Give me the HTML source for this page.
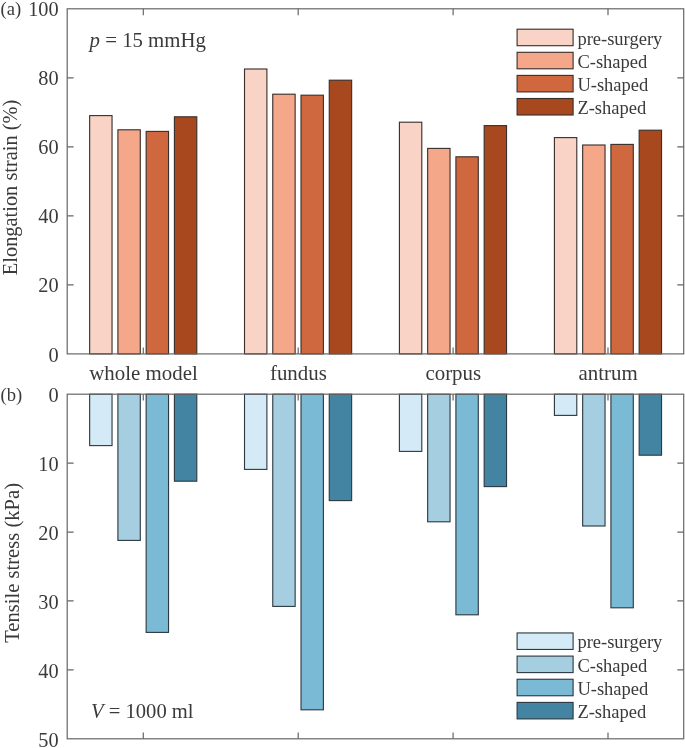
<!DOCTYPE html>
<html><head><meta charset="utf-8"><title>Figure</title>
<style>
html,body{margin:0;padding:0;background:#fff;}
body{width:685px;height:748px;overflow:hidden;}
svg{display:block;filter:blur(0.3px)}
text{font-family:"Liberation Serif",serif;fill:#3a3a3a;}
.t{font-size:20.6px}
.l{font-size:18.5px}
.ax{stroke:#666;stroke-width:1.2;fill:none}
.b{stroke:#3a2f2b;stroke-width:1.12}
.c{stroke:#2d3941}
</style></head><body>
<svg width="685" height="748" viewBox="0 0 685 748">
<rect width="685" height="748" fill="#fff"/>
<path class="ax" d="M143.3 8.8v6.4M143.3 353.9v-6.4"/>
<path class="ax" d="M298.2 8.8v6.4M298.2 353.9v-6.4"/>
<path class="ax" d="M453.1 8.8v6.4M453.1 353.9v-6.4"/>
<path class="ax" d="M608.0 8.8v6.4M608.0 353.9v-6.4"/>
<path class="ax" d="M67.2 284.88h6.4M683.7 284.88h-6.4"/>
<path class="ax" d="M67.2 215.86h6.4M683.7 215.86h-6.4"/>
<path class="ax" d="M67.2 146.84h6.4M683.7 146.84h-6.4"/>
<path class="ax" d="M67.2 77.82h6.4M683.7 77.82h-6.4"/>
<path class="ax" d="M143.3 394.2v6.4M143.3 738.8v-6.4"/>
<path class="ax" d="M298.2 394.2v6.4M298.2 738.8v-6.4"/>
<path class="ax" d="M453.1 394.2v6.4M453.1 738.8v-6.4"/>
<path class="ax" d="M608.0 394.2v6.4M608.0 738.8v-6.4"/>
<path class="ax" d="M67.2 463.12h6.4M683.7 463.12h-6.4"/>
<path class="ax" d="M67.2 532.04h6.4M683.7 532.04h-6.4"/>
<path class="ax" d="M67.2 600.96h6.4M683.7 600.96h-6.4"/>
<path class="ax" d="M67.2 669.88h6.4M683.7 669.88h-6.4"/>
<rect class="b" x="89.66" y="115.60" width="22.38" height="238.30" fill="#f8d3c6"/>
<rect class="b c" x="89.66" y="394.20" width="22.38" height="51.40" fill="#d4ebf7"/>
<rect class="b" x="117.91" y="129.80" width="22.38" height="224.10" fill="#f5a78a"/>
<rect class="b c" x="117.91" y="394.20" width="22.38" height="146.20" fill="#a5cfe0"/>
<rect class="b" x="146.16" y="131.40" width="22.38" height="222.50" fill="#d0683f"/>
<rect class="b c" x="146.16" y="394.20" width="22.38" height="238.20" fill="#7bbad5"/>
<rect class="b" x="174.41" y="116.80" width="22.38" height="237.10" fill="#a8481f"/>
<rect class="b c" x="174.41" y="394.20" width="22.38" height="87.00" fill="#4384a3"/>
<rect class="b" x="244.51" y="69.00" width="22.38" height="284.90" fill="#f8d3c6"/>
<rect class="b c" x="244.51" y="394.20" width="22.38" height="75.20" fill="#d4ebf7"/>
<rect class="b" x="272.76" y="94.20" width="22.38" height="259.70" fill="#f5a78a"/>
<rect class="b c" x="272.76" y="394.20" width="22.38" height="212.20" fill="#a5cfe0"/>
<rect class="b" x="301.01" y="95.20" width="22.38" height="258.70" fill="#d0683f"/>
<rect class="b c" x="301.01" y="394.20" width="22.38" height="315.60" fill="#7bbad5"/>
<rect class="b" x="329.26" y="80.20" width="22.38" height="273.70" fill="#a8481f"/>
<rect class="b c" x="329.26" y="394.20" width="22.38" height="106.40" fill="#4384a3"/>
<rect class="b" x="399.41" y="122.20" width="22.38" height="231.70" fill="#f8d3c6"/>
<rect class="b c" x="399.41" y="394.20" width="22.38" height="57.20" fill="#d4ebf7"/>
<rect class="b" x="427.66" y="148.40" width="22.38" height="205.50" fill="#f5a78a"/>
<rect class="b c" x="427.66" y="394.20" width="22.38" height="127.60" fill="#a5cfe0"/>
<rect class="b" x="455.91" y="156.80" width="22.38" height="197.10" fill="#d0683f"/>
<rect class="b c" x="455.91" y="394.20" width="22.38" height="220.60" fill="#7bbad5"/>
<rect class="b" x="484.16" y="125.60" width="22.38" height="228.30" fill="#a8481f"/>
<rect class="b c" x="484.16" y="394.20" width="22.38" height="92.40" fill="#4384a3"/>
<rect class="b" x="554.41" y="137.60" width="22.38" height="216.30" fill="#f8d3c6"/>
<rect class="b c" x="554.41" y="394.20" width="22.38" height="21.20" fill="#d4ebf7"/>
<rect class="b" x="582.66" y="145.00" width="22.38" height="208.90" fill="#f5a78a"/>
<rect class="b c" x="582.66" y="394.20" width="22.38" height="131.80" fill="#a5cfe0"/>
<rect class="b" x="610.91" y="144.40" width="22.38" height="209.50" fill="#d0683f"/>
<rect class="b c" x="610.91" y="394.20" width="22.38" height="213.60" fill="#7bbad5"/>
<rect class="b" x="639.16" y="130.20" width="22.38" height="223.70" fill="#a8481f"/>
<rect class="b c" x="639.16" y="394.20" width="22.38" height="61.00" fill="#4384a3"/>
<rect class="ax" x="67.2" y="8.8" width="616.5" height="345.09999999999997"/>
<rect class="ax" x="67.2" y="394.2" width="616.5" height="344.59999999999997"/>
<text class="t" style="font-size:20.3px" x="58.6" y="361.50" text-anchor="end">0</text>
<text class="t" style="font-size:20.3px" x="58.6" y="292.48" text-anchor="end">20</text>
<text class="t" style="font-size:20.3px" x="58.6" y="223.46" text-anchor="end">40</text>
<text class="t" style="font-size:20.3px" x="58.6" y="154.44" text-anchor="end">60</text>
<text class="t" style="font-size:20.3px" x="58.6" y="85.42" text-anchor="end">80</text>
<text class="t" style="font-size:20.3px" x="58.6" y="16.40" text-anchor="end">100</text>
<text class="t" style="font-size:20.3px" x="58.6" y="401.50" text-anchor="end">0</text>
<text class="t" style="font-size:20.3px" x="58.6" y="470.92" text-anchor="end">10</text>
<text class="t" style="font-size:20.3px" x="58.6" y="539.84" text-anchor="end">20</text>
<text class="t" style="font-size:20.3px" x="58.6" y="608.76" text-anchor="end">30</text>
<text class="t" style="font-size:20.3px" x="58.6" y="677.68" text-anchor="end">40</text>
<text class="t" style="font-size:20.3px" x="58.6" y="746.60" text-anchor="end">50</text>
<text class="t" style="font-size:20.9px" x="143.5" y="380.3" text-anchor="middle">whole model</text>
<text class="t" style="font-size:20.9px" x="298.4" y="380.3" text-anchor="middle">fundus</text>
<text class="t" style="font-size:20.9px" x="453.3" y="380.3" text-anchor="middle">corpus</text>
<text class="t" style="font-size:20.9px" x="608.2" y="380.3" text-anchor="middle">antrum</text>
<text class="t" style="font-size:18.6px" x="0.5" y="14.8">(a)</text>
<text class="t" style="font-size:18.6px" x="0.5" y="400.9">(b)</text>
<text class="t" style="font-size:20.8px" x="89.6" y="47.2"><tspan font-style="italic">p</tspan> = 15 mmHg</text>
<text class="t" x="91.0" y="718.0"><tspan font-style="italic">V</tspan> = 1000 ml</text>
<text class="t" style="font-size:20.4px" transform="translate(16.8 187.4) rotate(-90)" text-anchor="middle">Elongation strain (%)</text>
<text class="t" transform="translate(18.9 562.9) rotate(-90)" text-anchor="middle">Tensile stress (kPa)</text>
<rect class="b" x="517.1" y="29.20" width="56.0" height="16.5" fill="#f8d3c6"/>
<text class="l" x="577.4" y="44.65">pre-surgery</text>
<rect class="b" x="517.1" y="52.30" width="56.0" height="16.5" fill="#f5a78a"/>
<text class="l" x="577.4" y="67.75">C-shaped</text>
<rect class="b" x="517.1" y="75.40" width="56.0" height="16.5" fill="#d0683f"/>
<text class="l" x="577.4" y="90.85">U-shaped</text>
<rect class="b" x="517.1" y="98.50" width="56.0" height="16.5" fill="#a8481f"/>
<text class="l" x="577.4" y="113.95">Z-shaped</text>
<rect class="b c" x="517.1" y="632.95" width="56.0" height="16.5" fill="#d4ebf7"/>
<text class="l" x="577.4" y="648.40">pre-surgery</text>
<rect class="b c" x="517.1" y="656.10" width="56.0" height="16.5" fill="#a5cfe0"/>
<text class="l" x="577.4" y="671.55">C-shaped</text>
<rect class="b c" x="517.1" y="679.25" width="56.0" height="16.5" fill="#7bbad5"/>
<text class="l" x="577.4" y="694.70">U-shaped</text>
<rect class="b c" x="517.1" y="702.40" width="56.0" height="16.5" fill="#4384a3"/>
<text class="l" x="577.4" y="717.85">Z-shaped</text>
</svg></body></html>
